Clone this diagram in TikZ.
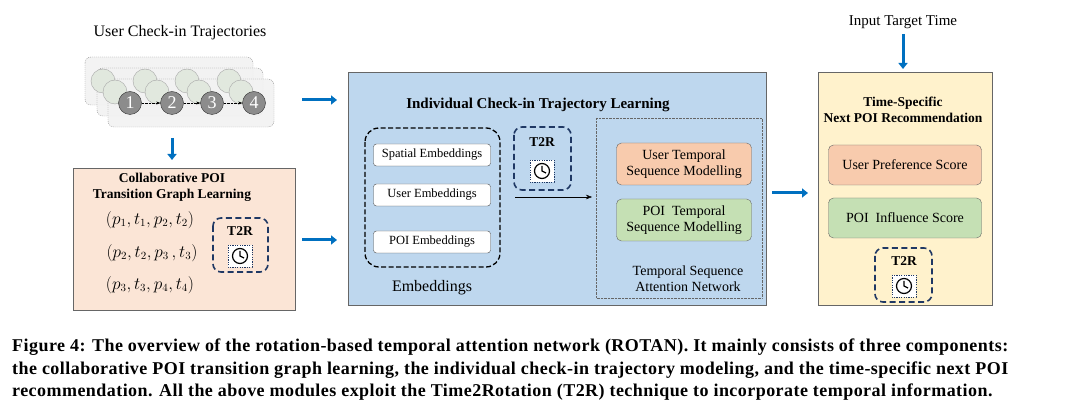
\documentclass[tikz,border=0pt]{standalone}
\usepackage{fontspec}
\setmainfont{Liberation Serif}
\usetikzlibrary{arrows.meta}
\definecolor{bluebg}{RGB}{190,215,238}
\definecolor{pinkbg}{RGB}{251,229,214}
\definecolor{yelbg}{RGB}{255,242,204}
\definecolor{orbox}{RGB}{248,203,173}
\definecolor{grbox}{RGB}{197,224,180}
\definecolor{arblue}{RGB}{0,112,192}
\definecolor{navy}{RGB}{31,56,100}
\definecolor{fadeg}{RGB}{225,232,222}
\begin{document}
\begin{tikzpicture}[x=1pt,y=-1pt,
 bigarrow/.style={draw=arblue,line width=3pt,-{Triangle[length=6pt,width=9pt]}},
 t2r/.style={draw=navy,line width=1.6pt,dash pattern=on 6pt off 3.5pt,rounded corners=8pt},
 emb/.style={draw=black!70,fill=white,rounded corners=3pt,minimum width=117pt,minimum height=22pt,font=\fontsize{12.5}{13}\selectfont},
 mod/.style={draw=black!60,rounded corners=5pt,minimum width=135pt,minimum height=42pt,align=center,font=\fontsize{14}{16}\selectfont},
 ttl/.style={font=\bfseries\fontsize{13.5}{16}\selectfont,align=center},
 traj/.style={draw=black!50,dash pattern=on 1pt off 1pt,fill=black!5,rounded corners=6pt,opacity=0.9},
 poi/.style={circle,draw=black!80,fill=black!45,minimum size=23pt,inner sep=0pt,text=white,font=\fontsize{18}{18}\selectfont}]
\useasboundingbox (0,0) rectangle (1080,419);
\tikzset{clock/.pic={
 \draw[navy,dash pattern=on 1.2pt off 1.2pt,fill=white] (-12,-11) rectangle (12,11);
 \draw[line width=1.2pt] (0,0) circle (7.5);
 \draw[line width=1.2pt] (0,-5) -- (0,0) -- (4,2);
}}
% trajectories
\node (ttl) at (180,33) {\fontsize{16}{18}\selectfont User Check-in Trajectories};
\draw[traj] (85,57) rectangle (253,105);
\draw[traj] (97,68) rectangle (263,116);
\draw[traj] (108,79) rectangle (274,127);
\foreach \x in {103,145,187,229}{\draw[black!35,fill=fadeg] (\x,81) circle (12);}
\foreach \x in {115,157,199,241}{\draw[black!35,fill=fadeg] (\x,92) circle (12);}
\node[poi] (p1) at (130,103) {1};
\node[poi] (p2) at (172,103) {2};
\node[poi] (p3) at (212,103) {3};
\node[poi] (p4) at (254,103) {4};
\foreach \a/\b in {p1/p2,p2/p3,p3/p4}{\draw[densely dotted,-{Stealth[length=4pt]}] (\a) -- (\b);}
\coordinate (d1) at (172,138); \coordinate (d2) at (172,160);
\draw[bigarrow] (d1) -- (d2);
% pink box
\node[draw=black!60,fill=pinkbg,minimum width=222pt,minimum height=142pt,anchor=north west] (pink) at (73,168) {};
\node[ttl] (pt) at (172,187) {Collaborative POI\\Transition Graph Learning};
\node[font=\fontsize{16}{18}\selectfont] (f1) at (150,220) {$(p_1,t_1,p_2,t_2)$};
\node[font=\fontsize{16}{18}\selectfont] (f2) at (152,253) {$(p_2,t_2,p_3\,,t_3)$};
\node[font=\fontsize{16}{18}\selectfont] (f3) at (150,285) {$(p_3,t_3,p_4,t_4)$};
\draw[t2r] (213,218) rectangle (268,272);
\node[ttl] (t2a) at (240,231) {T2R};
\pic at (240,256) {clock};
% arrows to blue
\coordinate (a1) at (302,100); \coordinate (a2) at (337,100);
\draw[bigarrow] (a1) -- (a2);
\coordinate (b1) at (302,240); \coordinate (b2) at (337,240);
\draw[bigarrow] (b1) -- (b2);
% blue box
\node[draw=black!60,fill=bluebg,minimum width=418pt,minimum height=233pt,anchor=north west] (blue) at (348,72) {};
\node[font=\bfseries\fontsize{15}{17}\selectfont] (bt) at (538,105) {Individual Check-in Trajectory Learning};
\draw[black,line width=1.3pt,dash pattern=on 5pt off 2.5pt,rounded corners=14pt] (365,128) rectangle (500,267);
\node[emb] (e1) at (432,155) {Spatial Embeddings};
\node[emb] (e2) at (432,195) {User Embeddings};
\node[emb] (e3) at (432,242) {POI Embeddings};
\node[font=\fontsize{16}{18}\selectfont] (el) at (432,288) {Embeddings};
\draw[t2r] (514,127) rectangle (571,190);
\node[ttl] (t2b) at (542,142) {T2R};
\pic at (542,171) {clock};
\coordinate (c1) at (515,197); \coordinate (c2) at (592,197);
\draw[-{Stealth[length=6pt]}] (c1) -- (c2);
\draw[black!60,densely dotted] (596,118) rectangle (762,298);
\node[mod,fill=orbox] (m1) at (684,164) {User Temporal\\Sequence Modelling};
\node[mod,fill=grbox] (m2) at (684,220) {POI \ Temporal\\Sequence Modelling};
\node[font=\fontsize{14}{16}\selectfont,align=center] (tl) at (688,279) {Temporal Sequence\\Attention Network};
\coordinate (g1) at (772,193); \coordinate (g2) at (808,193);
\draw[bigarrow] (g1) -- (g2);
% yellow box
\node[draw=black!60,fill=yelbg,minimum width=174pt,minimum height=233pt,anchor=north west] (yel) at (818,72) {};
\node[font=\fontsize{15}{17}\selectfont] (itt) at (903,22) {Input Target Time};
\coordinate (h1) at (903,34); \coordinate (h2) at (903,69);
\draw[bigarrow] (h1) -- (h2);
\node[ttl] (yt) at (903,110) {Time-Specific\\Next POI Recommendation};
\node[mod,fill=orbox,minimum width=153pt,minimum height=40pt] (s1) at (905,165) {User Preference Score};
\node[mod,fill=grbox,minimum width=153pt,minimum height=40pt] (s2) at (905,218) {POI \ Influence Score};
\draw[t2r] (875,248) rectangle (932,302);
\node[ttl] (t2c) at (904,261) {T2R};
\pic at (904,286) {clock};
% caption
\begin{scope}[font=\bfseries\fontsize{18}{20}\selectfont\addfontfeature{LetterSpace=2.5}]
\node[anchor=west,inner sep=0] (cap1) at (12,347) {Figure 4: The overview of the rotation-based temporal attention network (ROTAN). It mainly consists of three components:};
\node[anchor=west,inner sep=0] (cap2) at (12,370) {the collaborative POI transition graph learning, the individual check-in trajectory modeling, and the time-specific next POI};
\node[anchor=west,inner sep=0] (cap3) at (12,392) {recommendation. All the above modules exploit the Time2Rotation (T2R) technique to incorporate temporal information.};
\end{scope}
\end{tikzpicture}
\end{document}
